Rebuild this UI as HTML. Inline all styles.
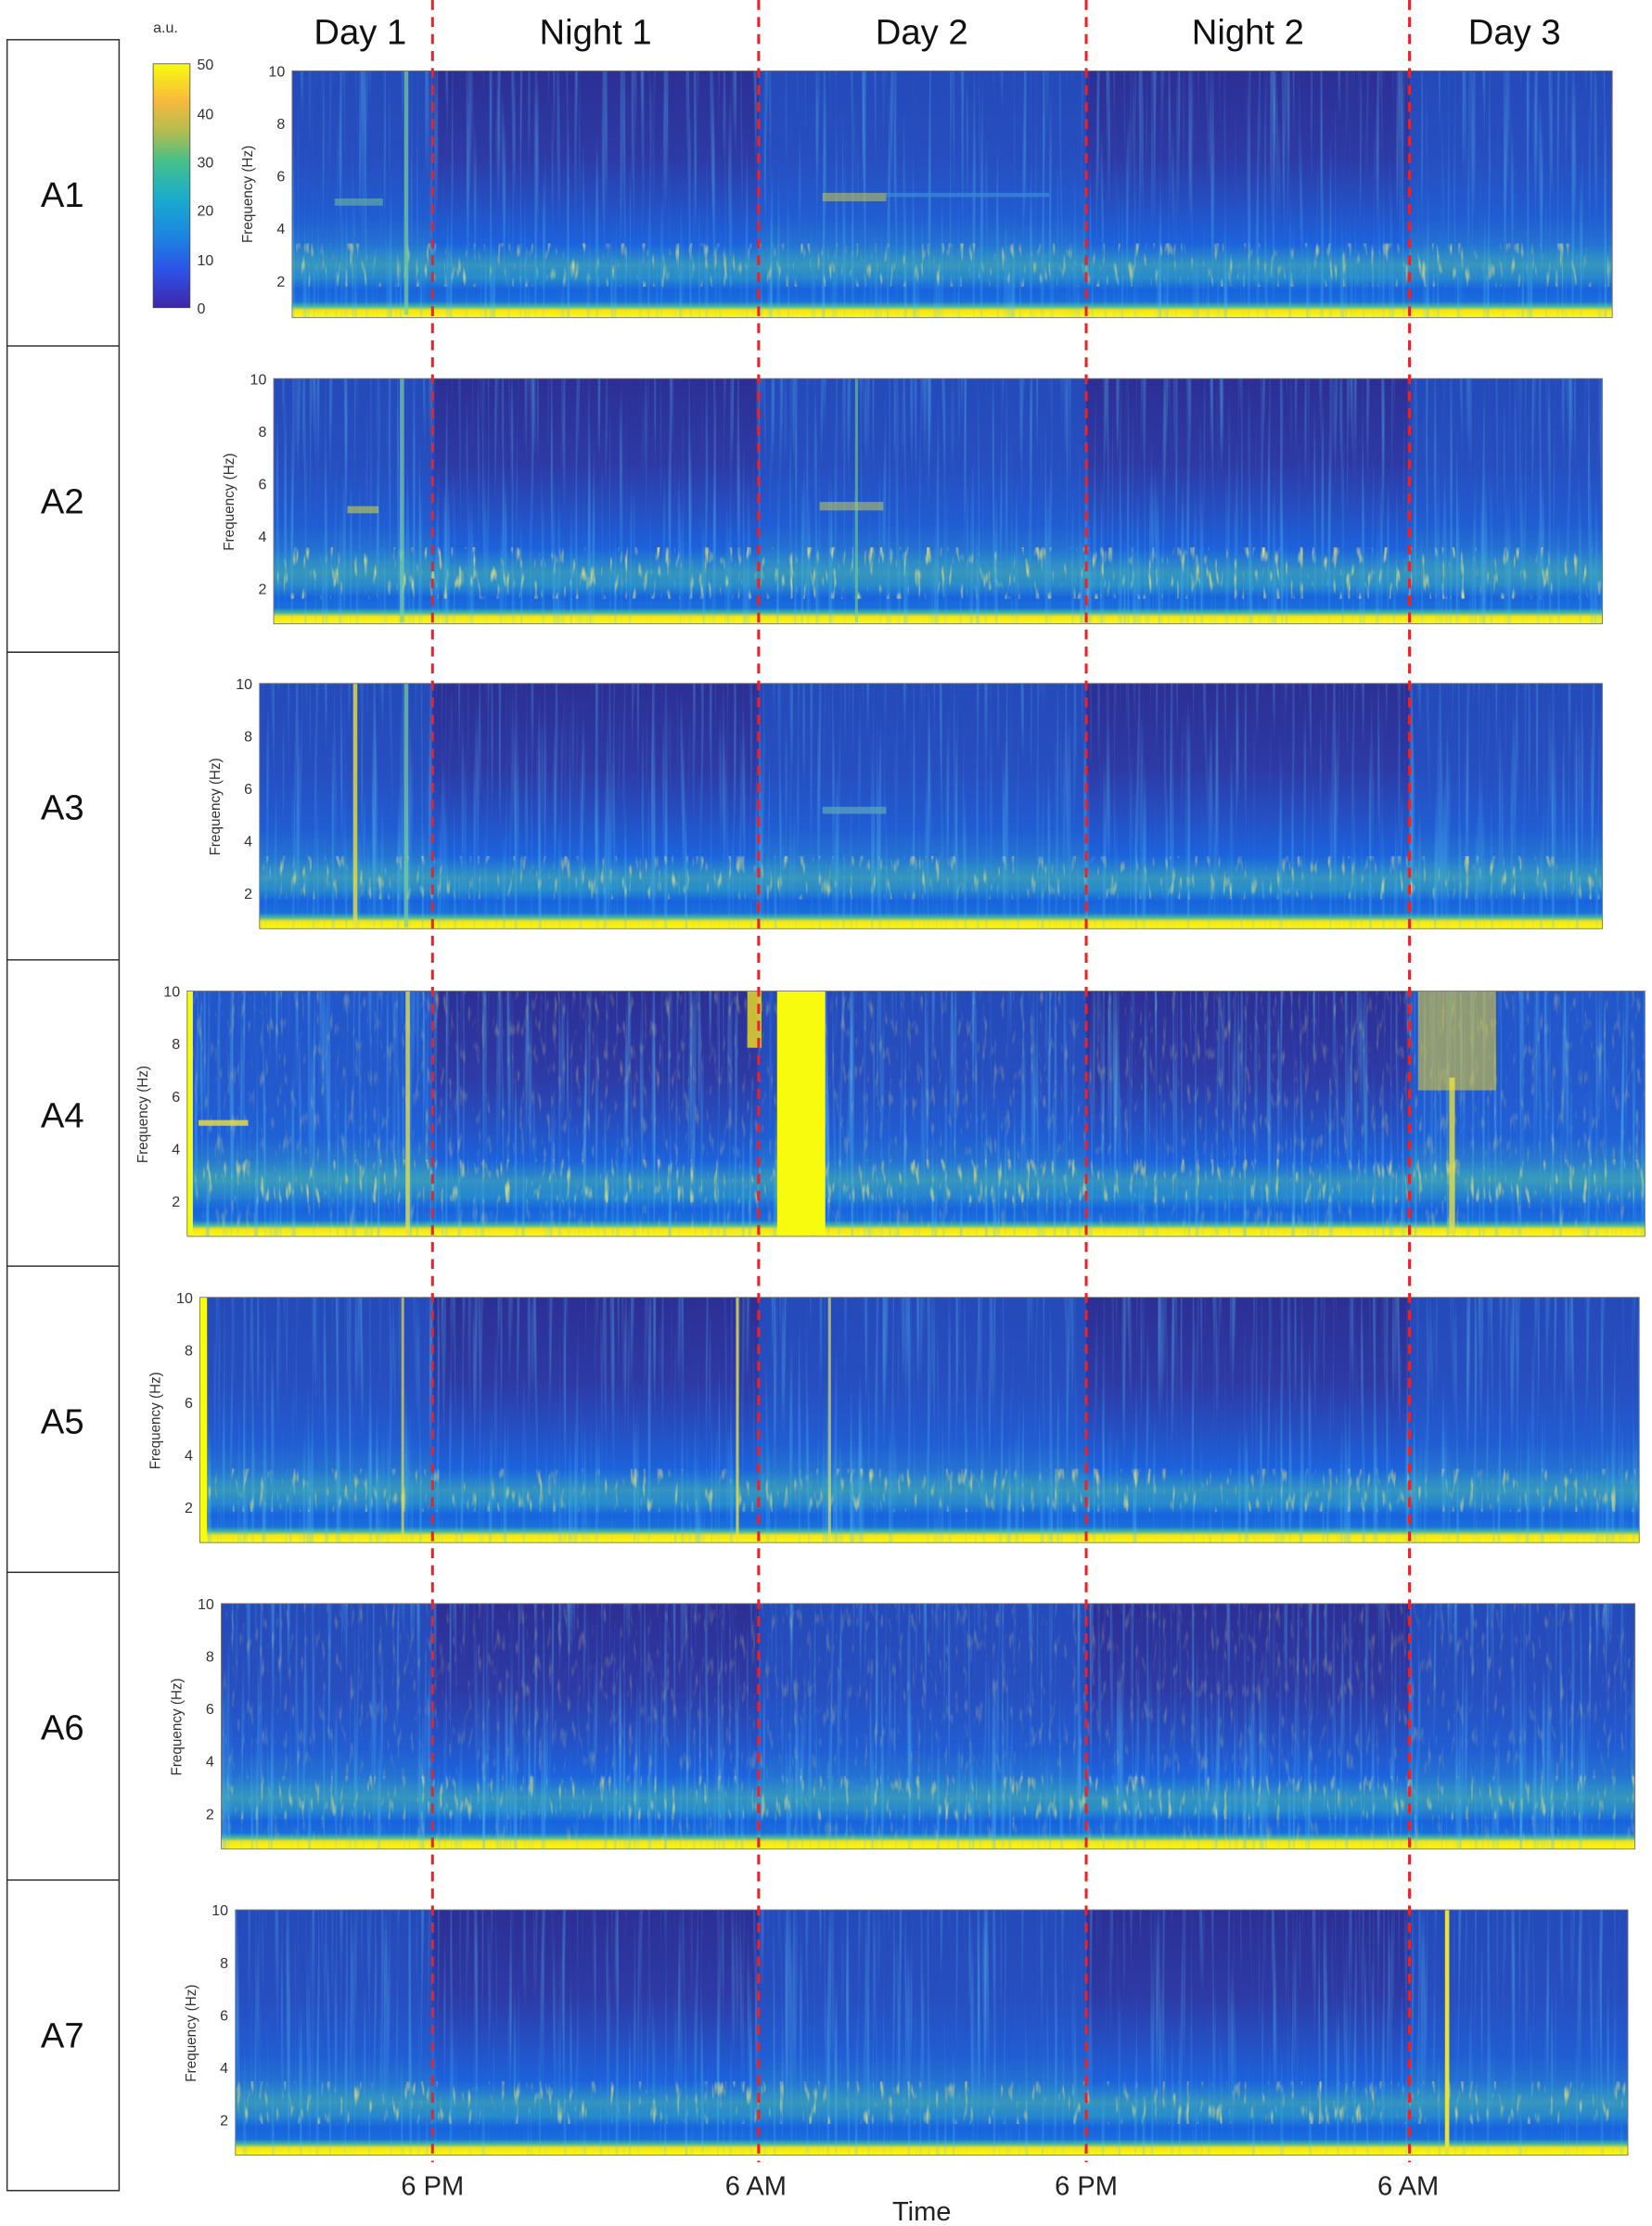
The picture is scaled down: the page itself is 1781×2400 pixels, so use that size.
<!DOCTYPE html>
<html><head><meta charset="utf-8">
<style>
html,body{margin:0;padding:0;background:#fff;}
svg{display:block;}
text{font-family:"Liberation Sans",sans-serif;}
.big{font-family:"Liberation Sans",sans-serif;font-size:25px;fill:#111;}
.tk{font-size:10.5px;fill:#333;}
.yl{font-size:10px;fill:#333;}
</style></head>
<body>
<svg width="1781" height="2400" viewBox="0 0 1165 1570" preserveAspectRatio="none">
<defs>
<linearGradient id="bg" x1="0" y1="0" x2="0" y2="1">
<stop offset="0" stop-color="#2c2f95"/>
<stop offset="0.35" stop-color="#2d3aa6"/>
<stop offset="0.55" stop-color="#2450c4"/>
<stop offset="0.70" stop-color="#1c62dc"/>
<stop offset="0.78" stop-color="#1f74d8"/>
<stop offset="0.84" stop-color="#2384d0"/>
<stop offset="0.89" stop-color="#1762de"/>
<stop offset="0.935" stop-color="#1a6fda"/>
<stop offset="0.955" stop-color="#45b8a0"/>
<stop offset="0.97" stop-color="#f7e21a"/>
<stop offset="1" stop-color="#f9fb0e"/>
</linearGradient>
<linearGradient id="day" x1="0" y1="0" x2="0" y2="1">
<stop offset="0" stop-color="#1f5fd8" stop-opacity="0.55"/>
<stop offset="0.6" stop-color="#1f66dc" stop-opacity="0.45"/>
<stop offset="0.75" stop-color="#3aa0b8" stop-opacity="0.3"/>
<stop offset="0.85" stop-color="#1f66dc" stop-opacity="0.2"/>
<stop offset="0.93" stop-color="#1f66dc" stop-opacity="0"/>
</linearGradient>
<linearGradient id="band" x1="0" y1="0" x2="0" y2="1">
<stop offset="0" stop-color="#30a8c0" stop-opacity="0"/>
<stop offset="0.5" stop-color="#50b8a0" stop-opacity="0.45"/>
<stop offset="1" stop-color="#30a8c0" stop-opacity="0"/>
</linearGradient>
<linearGradient id="cb" x1="0" y1="1" x2="0" y2="0">
<stop offset="0" stop-color="#3e26a8"/>
<stop offset="0.15" stop-color="#2d52e8"/>
<stop offset="0.3" stop-color="#1b87e0"/>
<stop offset="0.45" stop-color="#1aaccc"/>
<stop offset="0.6" stop-color="#45c08a"/>
<stop offset="0.72" stop-color="#b0bc50"/>
<stop offset="0.85" stop-color="#f8ba3c"/>
<stop offset="1" stop-color="#f9fb0e"/>
</linearGradient>
<filter id="n1" x="0" y="0" width="1" height="1"><feTurbulence type="fractalNoise" baseFrequency="0.35 0.006" numOctaves="2" seed="1"/><feColorMatrix values="0 0 0 0 0.1  0 0 0 0 0.55  0 0 0 0 0.9  0 0 0 2.2 -1.15"/></filter>
<filter id="n2" x="0" y="0" width="1" height="1"><feTurbulence type="fractalNoise" baseFrequency="0.35 0.006" numOctaves="2" seed="7"/><feColorMatrix values="0 0 0 0 0.1  0 0 0 0 0.55  0 0 0 0 0.9  0 0 0 2.2 -1.15"/></filter>
<filter id="n3" x="0" y="0" width="1" height="1"><feTurbulence type="fractalNoise" baseFrequency="0.35 0.006" numOctaves="2" seed="13"/><feColorMatrix values="0 0 0 0 0.1  0 0 0 0 0.55  0 0 0 0 0.9  0 0 0 2.2 -1.15"/></filter>
<filter id="nd" x="0" y="0" width="1" height="1"><feTurbulence type="fractalNoise" baseFrequency="0.3 0.06" numOctaves="2" seed="21"/><feColorMatrix values="0 0 0 0 0.95  0 0 0 0 0.82  0 0 0 0 0.2  0 0 0 3.2 -1.9"/></filter>
</defs>

<g fill="none" stroke="#333" stroke-width="1">
<rect x="5" y="28" width="79" height="1517"/>
<line x1="5" y1="244" x2="84" y2="244"/>
<line x1="5" y1="460" x2="84" y2="460"/>
<line x1="5" y1="677" x2="84" y2="677"/>
<line x1="5" y1="893" x2="84" y2="893"/>
<line x1="5" y1="1109" x2="84" y2="1109"/>
<line x1="5" y1="1326" x2="84" y2="1326"/>
</g>
<g class="big" text-anchor="middle" font-size="27">
<text x="44" y="146">A1</text>
<text x="44" y="362">A2</text>
<text x="44" y="578">A3</text>
<text x="44" y="795">A4</text>
<text x="44" y="1011">A5</text>
<text x="44" y="1227">A6</text>
<text x="44" y="1444">A7</text>
</g>

<text x="108" y="23" class="tk" font-size="12">a.u.</text>
<rect x="108" y="45" width="26" height="172" fill="url(#cb)" stroke="#444" stroke-width="0.5"/>
<g class="tk" font-size="10">
<text x="139" y="49">50</text><text x="139" y="84">40</text><text x="139" y="118">30</text>
<text x="139" y="152">20</text><text x="139" y="187">10</text><text x="139" y="221">0</text>
</g>

<g class="big" text-anchor="middle">
<text x="254" y="31">Day 1</text>
<text x="420" y="31">Night 1</text>
<text x="650" y="31">Day 2</text>
<text x="880" y="31">Night 2</text>
<text x="1068" y="31">Day 3</text>
</g>

<!-- A1 -->
<g>
<rect x="206" y="50" width="931" height="174" fill="url(#bg)"/>
<rect x="206" y="50" width="99" height="174" fill="url(#day)"/>
<rect x="535" y="50" width="231" height="174" fill="url(#day)"/>
<rect x="994" y="50" width="143" height="174" fill="url(#day)"/>
<rect x="206" y="50" width="931" height="174" filter="url(#n1)" opacity="0.6"/>
<rect x="206" y="172" width="931" height="30" fill="url(#band)"/>
<rect x="206" y="172" width="931" height="30" filter="url(#nd)" opacity="0.8"/>
<rect x="236" y="140" width="34" height="5" fill="#6ab8a0" opacity="0.6"/>
<rect x="580" y="136" width="45" height="6" fill="#b8c060" opacity="0.6"/>
<rect x="625" y="136" width="115" height="3" fill="#3a8ad8" opacity="0.7"/>
<rect x="285" y="50" width="3" height="172" fill="#7ad0a0" opacity="0.7"/>
<rect x="206" y="50" width="931" height="174" fill="none" stroke="#777" stroke-width="0.6"/>
</g>
<!-- A2 -->
<g>
<rect x="193" y="267" width="937" height="173" fill="url(#bg)"/>
<rect x="193" y="267" width="112" height="173" fill="url(#day)"/>
<rect x="535" y="267" width="231" height="173" fill="url(#day)"/>
<rect x="994" y="267" width="136" height="173" fill="url(#day)"/>
<rect x="193" y="267" width="937" height="173" filter="url(#n2)" opacity="0.6"/>
<rect x="193" y="386" width="937" height="36" fill="url(#band)"/>
<rect x="193" y="386" width="937" height="36" filter="url(#nd)" opacity="1"/>
<rect x="245" y="357" width="22" height="5" fill="#b0c060" opacity="0.7"/>
<rect x="578" y="354" width="45" height="6" fill="#b8c060" opacity="0.6"/>
<rect x="282" y="267" width="3" height="172" fill="#7ad0a0" opacity="0.7"/>
<rect x="603" y="267" width="2" height="172" fill="#7ad0a0" opacity="0.6"/>
<rect x="193" y="267" width="937" height="173" fill="none" stroke="#777" stroke-width="0.6"/>
</g>
<!-- A3 -->
<g>
<rect x="183" y="482" width="947" height="173" fill="url(#bg)"/>
<rect x="183" y="482" width="122" height="173" fill="url(#day)"/>
<rect x="535" y="482" width="231" height="173" fill="url(#day)"/>
<rect x="994" y="482" width="136" height="173" fill="url(#day)"/>
<rect x="183" y="482" width="947" height="173" filter="url(#n3)" opacity="0.6"/>
<rect x="183" y="604" width="947" height="30" fill="url(#band)"/>
<rect x="183" y="604" width="947" height="30" filter="url(#nd)" opacity="0.8"/>
<rect x="249" y="482" width="3" height="172" fill="#e8e040" opacity="0.8"/>
<rect x="285" y="482" width="3" height="172" fill="#7ad0a0" opacity="0.7"/>
<rect x="580" y="569" width="45" height="5" fill="#5aa8c0" opacity="0.7"/>
<rect x="183" y="482" width="947" height="173" fill="none" stroke="#777" stroke-width="0.6"/>
</g>
<!-- A4 -->
<g>
<rect x="132" y="699" width="1028" height="173" fill="url(#bg)"/>
<rect x="132" y="699" width="173" height="173" fill="url(#day)"/>
<rect x="132" y="699" width="173" height="173" fill="url(#day)"/>
<rect x="535" y="699" width="231" height="173" fill="url(#day)"/>
<rect x="994" y="699" width="166" height="173" fill="url(#day)"/>
<rect x="994" y="699" width="166" height="173" fill="url(#day)"/>
<rect x="132" y="699" width="1028" height="173" filter="url(#n1)" opacity="0.75"/>
<rect x="132" y="699" width="1028" height="173" filter="url(#nd)" opacity="0.35"/>
<rect x="132" y="818" width="1028" height="30" fill="url(#band)"/>
<rect x="132" y="818" width="1028" height="30" filter="url(#nd)" opacity="0.7"/>
<rect x="132" y="699" width="4" height="172" fill="#f9fb0e"/>
<rect x="548" y="699" width="34" height="172" fill="#f9fb0e"/>
<rect x="527" y="699" width="10" height="40" fill="#f0e020" opacity="0.8"/>
<rect x="1000" y="699" width="55" height="70" fill="#e8d030" opacity="0.55"/>
<rect x="1022" y="760" width="4" height="110" fill="#e8e040" opacity="0.8"/>
<rect x="286" y="699" width="3" height="172" fill="#e8e040" opacity="0.8"/>
<rect x="140" y="790" width="35" height="4" fill="#f0e040" opacity="0.8"/>
<rect x="132" y="699" width="1028" height="173" fill="none" stroke="#777" stroke-width="0.6"/>
</g>
<!-- A5 -->
<g>
<rect x="141" y="915" width="1015" height="173" fill="url(#bg)"/>
<rect x="141" y="915" width="164" height="173" fill="url(#day)"/>
<rect x="535" y="915" width="231" height="173" fill="url(#day)"/>
<rect x="994" y="915" width="162" height="173" fill="url(#day)"/>
<rect x="141" y="915" width="1015" height="173" filter="url(#n2)" opacity="0.6"/>
<rect x="141" y="1036" width="1015" height="30" fill="url(#band)"/>
<rect x="141" y="1036" width="1015" height="30" filter="url(#nd)" opacity="0.8"/>
<rect x="141" y="915" width="5" height="172" fill="#f9fb0e"/>
<rect x="519" y="915" width="2" height="172" fill="#e8e040" opacity="0.8"/>
<rect x="584" y="915" width="2" height="172" fill="#e8e040" opacity="0.7"/>
<rect x="283" y="915" width="2" height="172" fill="#e8e040" opacity="0.7"/>
<rect x="141" y="915" width="1015" height="173" fill="none" stroke="#777" stroke-width="0.6"/>
</g>
<!-- A6 -->
<g>
<rect x="156" y="1131" width="997" height="173" fill="url(#bg)"/>
<rect x="156" y="1131" width="149" height="173" fill="url(#day)"/>
<rect x="535" y="1131" width="231" height="173" fill="url(#day)"/>
<rect x="994" y="1131" width="159" height="173" fill="url(#day)"/>
<rect x="156" y="1131" width="997" height="173" filter="url(#n3)" opacity="0.7"/>
<rect x="156" y="1131" width="997" height="173" filter="url(#nd)" opacity="0.3"/>
<rect x="156" y="1253" width="997" height="30" fill="url(#band)"/>
<rect x="156" y="1253" width="997" height="30" filter="url(#nd)" opacity="0.6"/>
<rect x="156" y="1131" width="997" height="173" fill="none" stroke="#777" stroke-width="0.6"/>
</g>
<!-- A7 -->
<g>
<rect x="166" y="1347" width="982" height="173" fill="url(#bg)"/>
<rect x="166" y="1347" width="139" height="173" fill="url(#day)"/>
<rect x="535" y="1347" width="231" height="173" fill="url(#day)"/>
<rect x="994" y="1347" width="154" height="173" fill="url(#day)"/>
<rect x="166" y="1347" width="982" height="173" filter="url(#n1)" opacity="0.6"/>
<rect x="166" y="1468" width="982" height="30" fill="url(#band)"/>
<rect x="166" y="1468" width="982" height="30" filter="url(#nd)" opacity="0.8"/>
<rect x="1019" y="1347" width="3" height="172" fill="#e8e040"/>
<rect x="166" y="1347" width="982" height="173" fill="none" stroke="#777" stroke-width="0.6"/>
</g>

<g class="tk" text-anchor="end">
<text x="201" y="54">10</text><text x="201" y="91">8</text><text x="201" y="128">6</text><text x="201" y="165">4</text><text x="201" y="202">2</text>
<text x="188" y="271">10</text><text x="188" y="308">8</text><text x="188" y="345">6</text><text x="188" y="382">4</text><text x="188" y="419">2</text>
<text x="178" y="486">10</text><text x="178" y="523">8</text><text x="178" y="560">6</text><text x="178" y="597">4</text><text x="178" y="634">2</text>
<text x="127" y="703">10</text><text x="127" y="740">8</text><text x="127" y="777">6</text><text x="127" y="814">4</text><text x="127" y="851">2</text>
<text x="136" y="919">10</text><text x="136" y="956">8</text><text x="136" y="993">6</text><text x="136" y="1030">4</text><text x="136" y="1067">2</text>
<text x="151" y="1135">10</text><text x="151" y="1172">8</text><text x="151" y="1209">6</text><text x="151" y="1246">4</text><text x="151" y="1283">2</text>
<text x="161" y="1351">10</text><text x="161" y="1388">8</text><text x="161" y="1425">6</text><text x="161" y="1462">4</text><text x="161" y="1499">2</text>
</g>
<g class="yl" text-anchor="middle">
<text transform="translate(178,137) rotate(-90)">Frequency (Hz)</text>
<text transform="translate(165,354) rotate(-90)">Frequency (Hz)</text>
<text transform="translate(155,569) rotate(-90)">Frequency (Hz)</text>
<text transform="translate(104,786) rotate(-90)">Frequency (Hz)</text>
<text transform="translate(113,1002) rotate(-90)">Frequency (Hz)</text>
<text transform="translate(128,1218) rotate(-90)">Frequency (Hz)</text>
<text transform="translate(138,1434) rotate(-90)">Frequency (Hz)</text>
</g>

<g stroke="#e8232a" stroke-width="2" stroke-dasharray="7,5">
<line x1="305" y1="0" x2="305" y2="1525"/>
<line x1="535" y1="0" x2="535" y2="1525"/>
<line x1="766" y1="0" x2="766" y2="1525"/>
<line x1="994" y1="0" x2="994" y2="1525"/>
</g>

<g text-anchor="middle" font-size="19" fill="#222">
<text x="305" y="1548">6 PM</text>
<text x="533" y="1548">6 AM</text>
<text x="766" y="1548">6 PM</text>
<text x="993" y="1548">6 AM</text>
<text x="650" y="1566">Time</text>
</g>
</svg>
</body></html>
